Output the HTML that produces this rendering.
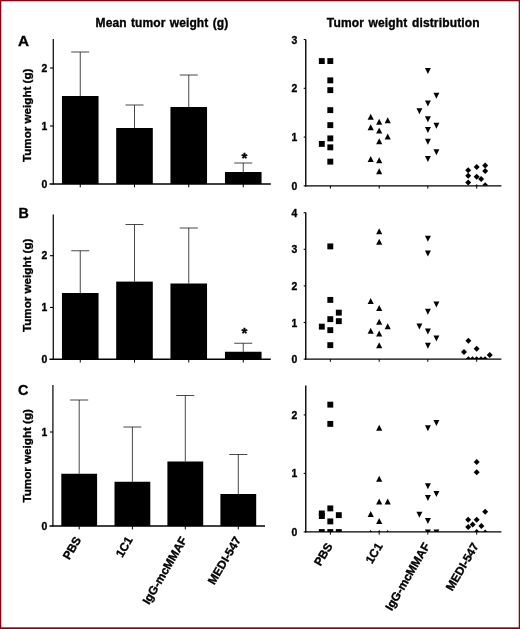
<!DOCTYPE html>
<html><head><meta charset="utf-8"><title>Tumor weight</title>
<style>
html,body{margin:0;padding:0;background:#fff;}
body{width:520px;height:629px;overflow:hidden;position:relative;}
.bd{position:absolute;background:#820818;}
svg{position:absolute;left:0;top:0;}
svg text{font-family:"Liberation Sans", Arial, Helvetica, sans-serif;font-weight:bold;fill:#000;stroke:#000;stroke-width:0.34px;}
</style></head><body>
<svg width="520" height="629" viewBox="0 0 520 629">
<text x="95.60" y="27.00" font-size="12.0" text-anchor="start"  textLength="132.6" lengthAdjust="spacing" word-spacing="1.0">Mean tumor weight (g)</text>
<text x="326.80" y="27.00" font-size="12.0" text-anchor="start"  textLength="152.8" lengthAdjust="spacing" word-spacing="1.0">Tumor weight distribution</text>
<text x="18.00" y="45.90" font-size="15.3" text-anchor="start" >A</text>
<text x="18.60" y="218.30" font-size="15.2" text-anchor="start" textLength="10.3" lengthAdjust="spacingAndGlyphs">B</text>
<text x="18.10" y="394.80" font-size="15.2" text-anchor="start" textLength="10.4" lengthAdjust="spacingAndGlyphs">C</text>
<line x1="53.30" y1="39.00" x2="53.30" y2="184.50" stroke="#1c1c1c" stroke-width="1.35"/>
<line x1="49.50" y1="184.00" x2="270.80" y2="184.00" stroke="#000" stroke-width="1.5"/>
<text x="47.40" y="187.50" font-size="10.4" text-anchor="end" >0</text>
<line x1="50.00" y1="126.00" x2="53.50" y2="126.00" stroke="#000" stroke-width="1.1"/>
<text x="47.40" y="129.50" font-size="10.4" text-anchor="end" >1</text>
<line x1="50.00" y1="68.00" x2="53.50" y2="68.00" stroke="#000" stroke-width="1.1"/>
<text x="47.40" y="71.50" font-size="10.4" text-anchor="end" >2</text>
<line x1="80.25" y1="52.00" x2="80.25" y2="96.00" stroke="#1a1a1a" stroke-width="0.8"/>
<line x1="71.25" y1="52.00" x2="89.25" y2="52.00" stroke="#1a1a1a" stroke-width="0.8"/>
<rect x="61.95" y="96.00" width="36.60" height="88.00" fill="#000"/>
<line x1="80.25" y1="184.00" x2="80.25" y2="187.30" stroke="#000" stroke-width="1.0"/>
<line x1="134.50" y1="105.00" x2="134.50" y2="128.00" stroke="#1a1a1a" stroke-width="0.8"/>
<line x1="125.50" y1="105.00" x2="143.50" y2="105.00" stroke="#1a1a1a" stroke-width="0.8"/>
<rect x="116.20" y="128.00" width="36.60" height="56.00" fill="#000"/>
<line x1="134.50" y1="184.00" x2="134.50" y2="187.30" stroke="#000" stroke-width="1.0"/>
<line x1="188.75" y1="75.00" x2="188.75" y2="107.00" stroke="#1a1a1a" stroke-width="0.8"/>
<line x1="179.75" y1="75.00" x2="197.75" y2="75.00" stroke="#1a1a1a" stroke-width="0.8"/>
<rect x="170.45" y="107.00" width="36.60" height="77.00" fill="#000"/>
<line x1="188.75" y1="184.00" x2="188.75" y2="187.30" stroke="#000" stroke-width="1.0"/>
<line x1="243.25" y1="163.00" x2="243.25" y2="172.00" stroke="#1a1a1a" stroke-width="0.8"/>
<line x1="234.25" y1="163.00" x2="252.25" y2="163.00" stroke="#1a1a1a" stroke-width="0.8"/>
<rect x="224.95" y="172.00" width="36.60" height="12.00" fill="#000"/>
<line x1="243.25" y1="184.00" x2="243.25" y2="187.30" stroke="#000" stroke-width="1.0"/>
<text x="244.40" y="162.50" font-size="15" text-anchor="middle" >*</text>
<text transform="translate(31.4,162.05) rotate(-90)" font-size="11.8" textLength="93.5" lengthAdjust="spacingAndGlyphs">Tumor weight (g)</text>
<line x1="53.30" y1="214.50" x2="53.30" y2="359.70" stroke="#1c1c1c" stroke-width="1.35"/>
<line x1="49.50" y1="359.20" x2="270.80" y2="359.20" stroke="#000" stroke-width="1.5"/>
<text x="47.40" y="362.70" font-size="10.4" text-anchor="end" >0</text>
<line x1="50.00" y1="307.45" x2="53.50" y2="307.45" stroke="#000" stroke-width="1.1"/>
<text x="47.40" y="310.95" font-size="10.4" text-anchor="end" >1</text>
<line x1="50.00" y1="255.70" x2="53.50" y2="255.70" stroke="#000" stroke-width="1.1"/>
<text x="47.40" y="259.20" font-size="10.4" text-anchor="end" >2</text>
<line x1="80.25" y1="250.75" x2="80.25" y2="293.00" stroke="#1a1a1a" stroke-width="0.8"/>
<line x1="71.25" y1="250.75" x2="89.25" y2="250.75" stroke="#1a1a1a" stroke-width="0.8"/>
<rect x="61.95" y="293.00" width="36.60" height="66.20" fill="#000"/>
<line x1="80.25" y1="359.20" x2="80.25" y2="362.50" stroke="#000" stroke-width="1.0"/>
<line x1="134.50" y1="224.50" x2="134.50" y2="281.60" stroke="#1a1a1a" stroke-width="0.8"/>
<line x1="125.50" y1="224.50" x2="143.50" y2="224.50" stroke="#1a1a1a" stroke-width="0.8"/>
<rect x="116.20" y="281.60" width="36.60" height="77.60" fill="#000"/>
<line x1="134.50" y1="359.20" x2="134.50" y2="362.50" stroke="#000" stroke-width="1.0"/>
<line x1="188.75" y1="228.00" x2="188.75" y2="283.50" stroke="#1a1a1a" stroke-width="0.8"/>
<line x1="179.75" y1="228.00" x2="197.75" y2="228.00" stroke="#1a1a1a" stroke-width="0.8"/>
<rect x="170.45" y="283.50" width="36.60" height="75.70" fill="#000"/>
<line x1="188.75" y1="359.20" x2="188.75" y2="362.50" stroke="#000" stroke-width="1.0"/>
<line x1="243.25" y1="343.25" x2="243.25" y2="351.75" stroke="#1a1a1a" stroke-width="0.8"/>
<line x1="234.25" y1="343.25" x2="252.25" y2="343.25" stroke="#1a1a1a" stroke-width="0.8"/>
<rect x="224.95" y="351.75" width="36.60" height="7.45" fill="#000"/>
<line x1="243.25" y1="359.20" x2="243.25" y2="362.50" stroke="#000" stroke-width="1.0"/>
<text x="244.50" y="337.80" font-size="15" text-anchor="middle" >*</text>
<text transform="translate(31.4,332.05) rotate(-90)" font-size="11.8" textLength="93.5" lengthAdjust="spacingAndGlyphs">Tumor weight (g)</text>
<line x1="52.90" y1="385.00" x2="52.90" y2="526.60" stroke="#1c1c1c" stroke-width="1.35"/>
<line x1="49.50" y1="526.10" x2="265.00" y2="526.10" stroke="#000" stroke-width="1.5"/>
<text x="47.40" y="529.60" font-size="10.4" text-anchor="end" >0</text>
<line x1="50.00" y1="432.00" x2="53.10" y2="432.00" stroke="#000" stroke-width="1.1"/>
<text x="47.40" y="435.50" font-size="10.4" text-anchor="end" >1</text>
<line x1="79.20" y1="400.00" x2="79.20" y2="473.75" stroke="#1a1a1a" stroke-width="0.8"/>
<line x1="70.20" y1="400.00" x2="88.20" y2="400.00" stroke="#1a1a1a" stroke-width="0.8"/>
<rect x="61.30" y="473.75" width="35.80" height="52.35" fill="#000"/>
<line x1="79.20" y1="526.10" x2="79.20" y2="529.40" stroke="#000" stroke-width="1.0"/>
<line x1="132.40" y1="427.00" x2="132.40" y2="481.75" stroke="#1a1a1a" stroke-width="0.8"/>
<line x1="123.40" y1="427.00" x2="141.40" y2="427.00" stroke="#1a1a1a" stroke-width="0.8"/>
<rect x="114.50" y="481.75" width="35.80" height="44.35" fill="#000"/>
<line x1="132.40" y1="526.10" x2="132.40" y2="529.40" stroke="#000" stroke-width="1.0"/>
<line x1="185.30" y1="395.50" x2="185.30" y2="461.50" stroke="#1a1a1a" stroke-width="0.8"/>
<line x1="176.30" y1="395.50" x2="194.30" y2="395.50" stroke="#1a1a1a" stroke-width="0.8"/>
<rect x="167.40" y="461.50" width="35.80" height="64.60" fill="#000"/>
<line x1="185.30" y1="526.10" x2="185.30" y2="529.40" stroke="#000" stroke-width="1.0"/>
<line x1="238.30" y1="454.50" x2="238.30" y2="494.00" stroke="#1a1a1a" stroke-width="0.8"/>
<line x1="229.30" y1="454.50" x2="247.30" y2="454.50" stroke="#1a1a1a" stroke-width="0.8"/>
<rect x="220.40" y="494.00" width="35.80" height="32.10" fill="#000"/>
<line x1="238.30" y1="526.10" x2="238.30" y2="529.40" stroke="#000" stroke-width="1.0"/>
<text transform="translate(31.4,502.55) rotate(-90)" font-size="11.8" textLength="93.5" lengthAdjust="spacingAndGlyphs">Tumor weight (g)</text>
<clipPath id="cpA"><rect x="300" y="29.50" width="215" height="156.35"/></clipPath>
<g clip-path="url(#cpA)">
<rect x="318.85" y="58.10" width="5.90" height="5.90" fill="#000"/>
<rect x="327.35" y="58.10" width="5.90" height="5.90" fill="#000"/>
<rect x="327.35" y="77.40" width="5.90" height="5.90" fill="#000"/>
<rect x="327.35" y="87.20" width="5.90" height="5.90" fill="#000"/>
<rect x="327.35" y="107.20" width="5.90" height="5.90" fill="#000"/>
<rect x="327.35" y="122.20" width="5.90" height="5.90" fill="#000"/>
<rect x="327.35" y="135.45" width="5.90" height="5.90" fill="#000"/>
<rect x="318.85" y="140.95" width="5.90" height="5.90" fill="#000"/>
<rect x="327.35" y="144.40" width="5.90" height="5.90" fill="#000"/>
<rect x="327.35" y="158.70" width="5.90" height="5.90" fill="#000"/>
<polygon points="367.65,119.80 373.75,119.80 370.70,113.80"/>
<polygon points="384.65,123.30 390.75,123.30 387.70,117.30"/>
<polygon points="376.15,124.80 382.25,124.80 379.20,118.80"/>
<polygon points="367.65,130.30 373.75,130.30 370.70,124.30"/>
<polygon points="376.15,133.55 382.25,133.55 379.20,127.55"/>
<polygon points="384.65,139.55 390.75,139.55 387.70,133.55"/>
<polygon points="376.15,144.30 382.25,144.30 379.20,138.30"/>
<polygon points="367.65,162.05 373.75,162.05 370.70,156.05"/>
<polygon points="376.15,163.30 382.25,163.30 379.20,157.30"/>
<polygon points="376.15,174.30 382.25,174.30 379.20,168.30"/>
<polygon points="424.95,68.00 430.85,68.00 427.90,74.10"/>
<polygon points="433.45,92.75 439.35,92.75 436.40,98.85"/>
<polygon points="424.95,100.50 430.85,100.50 427.90,106.60"/>
<polygon points="416.45,108.25 422.35,108.25 419.40,114.35"/>
<polygon points="424.95,116.25 430.85,116.25 427.90,122.35"/>
<polygon points="433.45,122.75 439.35,122.75 436.40,128.85"/>
<polygon points="424.95,127.00 430.85,127.00 427.90,133.10"/>
<polygon points="424.95,138.75 430.85,138.75 427.90,144.85"/>
<polygon points="433.45,149.25 439.35,149.25 436.40,155.35"/>
<polygon points="424.95,156.00 430.85,156.00 427.90,162.10"/>
<polygon points="465.20,170.20 468.20,167.20 471.20,170.20 468.20,173.20"/>
<polygon points="465.20,175.70 468.20,172.70 471.20,175.70 468.20,178.70"/>
<polygon points="465.20,182.40 468.20,179.40 471.20,182.40 468.20,185.40"/>
<polygon points="473.70,167.00 476.70,164.00 479.70,167.00 476.70,170.00"/>
<polygon points="473.70,176.70 476.70,173.70 479.70,176.70 476.70,179.70"/>
<polygon points="478.10,178.90 481.10,175.90 484.10,178.90 481.10,181.90"/>
<polygon points="482.20,165.50 485.20,162.50 488.20,165.50 485.20,168.50"/>
<polygon points="482.20,170.90 485.20,167.90 488.20,170.90 485.20,173.90"/>
<polygon points="473.70,187.20 476.70,184.20 479.70,187.20 476.70,190.20"/>
<polygon points="482.20,185.20 485.20,182.20 488.20,185.20 485.20,188.20"/>
</g>
<line x1="305.75" y1="39.50" x2="305.75" y2="186.45" stroke="#151515" stroke-width="1.5"/>
<line x1="305.05" y1="185.85" x2="501.40" y2="185.85" stroke="#000" stroke-width="1.3"/>
<line x1="303.70" y1="185.85" x2="305.75" y2="185.85" stroke="#000" stroke-width="1.1"/>
<text x="297.20" y="189.85" font-size="10.4" text-anchor="end" >0</text>
<line x1="303.70" y1="137.07" x2="305.75" y2="137.07" stroke="#000" stroke-width="1.1"/>
<text x="297.20" y="141.07" font-size="10.4" text-anchor="end" >1</text>
<line x1="303.70" y1="88.29" x2="305.75" y2="88.29" stroke="#000" stroke-width="1.1"/>
<text x="297.20" y="92.29" font-size="10.4" text-anchor="end" >2</text>
<line x1="303.70" y1="39.51" x2="305.75" y2="39.51" stroke="#000" stroke-width="1.1"/>
<text x="297.20" y="43.51" font-size="10.4" text-anchor="end" >3</text>
<line x1="330.40" y1="185.85" x2="330.40" y2="188.55" stroke="#000" stroke-width="1.0"/>
<line x1="379.20" y1="185.85" x2="379.20" y2="188.55" stroke="#000" stroke-width="1.0"/>
<line x1="427.80" y1="185.85" x2="427.80" y2="188.55" stroke="#000" stroke-width="1.0"/>
<line x1="476.70" y1="185.85" x2="476.70" y2="188.55" stroke="#000" stroke-width="1.0"/>
<clipPath id="cpB"><rect x="300" y="202.50" width="215" height="156.60"/></clipPath>
<g clip-path="url(#cpB)">
<rect x="327.35" y="243.45" width="5.90" height="5.90" fill="#000"/>
<rect x="327.35" y="296.95" width="5.90" height="5.90" fill="#000"/>
<rect x="335.85" y="309.70" width="5.90" height="5.90" fill="#000"/>
<rect x="327.35" y="316.20" width="5.90" height="5.90" fill="#000"/>
<rect x="335.85" y="318.20" width="5.90" height="5.90" fill="#000"/>
<rect x="318.85" y="323.70" width="5.90" height="5.90" fill="#000"/>
<rect x="327.35" y="327.20" width="5.90" height="5.90" fill="#000"/>
<rect x="327.35" y="342.20" width="5.90" height="5.90" fill="#000"/>
<polygon points="376.15,234.30 382.25,234.30 379.20,228.30"/>
<polygon points="376.15,244.80 382.25,244.80 379.20,238.80"/>
<polygon points="367.65,304.05 373.75,304.05 370.70,298.05"/>
<polygon points="376.15,311.05 382.25,311.05 379.20,305.05"/>
<polygon points="376.15,324.80 382.25,324.80 379.20,318.80"/>
<polygon points="384.65,329.30 390.75,329.30 387.70,323.30"/>
<polygon points="367.65,333.80 373.75,333.80 370.70,327.80"/>
<polygon points="376.15,336.55 382.25,336.55 379.20,330.55"/>
<polygon points="376.15,348.30 382.25,348.30 379.20,342.30"/>
<polygon points="424.95,235.75 430.85,235.75 427.90,241.85"/>
<polygon points="424.95,250.50 430.85,250.50 427.90,256.60"/>
<polygon points="433.45,301.40 439.35,301.40 436.40,307.50"/>
<polygon points="424.95,308.75 430.85,308.75 427.90,314.85"/>
<polygon points="416.45,323.50 422.35,323.50 419.40,329.60"/>
<polygon points="424.95,328.50 430.85,328.50 427.90,334.60"/>
<polygon points="433.45,335.50 439.35,335.50 436.40,341.60"/>
<polygon points="424.95,342.75 430.85,342.75 427.90,348.85"/>
<polygon points="465.40,340.80 468.40,337.80 471.40,340.80 468.40,343.80"/>
<polygon points="473.60,348.70 476.60,345.70 479.60,348.70 476.60,351.70"/>
<polygon points="461.00,352.10 464.00,349.10 467.00,352.10 464.00,355.10"/>
<polygon points="486.75,354.95 489.75,351.95 492.75,354.95 489.75,357.95"/>
<polygon points="465.40,359.20 468.40,356.20 471.40,359.20 468.40,362.20"/>
<polygon points="469.50,359.20 472.50,356.20 475.50,359.20 472.50,362.20"/>
<polygon points="473.60,359.20 476.60,356.20 479.60,359.20 476.60,362.20"/>
<polygon points="478.00,359.20 481.00,356.20 484.00,359.20 481.00,362.20"/>
<polygon points="482.00,359.20 485.00,356.20 488.00,359.20 485.00,362.20"/>
</g>
<line x1="305.75" y1="212.50" x2="305.75" y2="359.70" stroke="#151515" stroke-width="1.5"/>
<line x1="305.05" y1="359.10" x2="501.40" y2="359.10" stroke="#000" stroke-width="1.3"/>
<line x1="303.70" y1="359.10" x2="305.75" y2="359.10" stroke="#000" stroke-width="1.1"/>
<text x="297.20" y="363.10" font-size="10.4" text-anchor="end" >0</text>
<line x1="303.70" y1="322.50" x2="305.75" y2="322.50" stroke="#000" stroke-width="1.1"/>
<text x="297.20" y="326.50" font-size="10.4" text-anchor="end" >1</text>
<line x1="303.70" y1="285.90" x2="305.75" y2="285.90" stroke="#000" stroke-width="1.1"/>
<text x="297.20" y="289.90" font-size="10.4" text-anchor="end" >2</text>
<line x1="303.70" y1="249.30" x2="305.75" y2="249.30" stroke="#000" stroke-width="1.1"/>
<text x="297.20" y="253.30" font-size="10.4" text-anchor="end" >3</text>
<line x1="303.70" y1="212.70" x2="305.75" y2="212.70" stroke="#000" stroke-width="1.1"/>
<text x="297.20" y="216.70" font-size="10.4" text-anchor="end" >4</text>
<line x1="330.40" y1="359.10" x2="330.40" y2="361.80" stroke="#000" stroke-width="1.0"/>
<line x1="379.20" y1="359.10" x2="379.20" y2="361.80" stroke="#000" stroke-width="1.0"/>
<line x1="427.80" y1="359.10" x2="427.80" y2="361.80" stroke="#000" stroke-width="1.0"/>
<line x1="476.70" y1="359.10" x2="476.70" y2="361.80" stroke="#000" stroke-width="1.0"/>
<clipPath id="cpC"><rect x="300" y="375.50" width="215" height="156.40"/></clipPath>
<g clip-path="url(#cpC)">
<rect x="327.35" y="401.70" width="5.90" height="5.90" fill="#000"/>
<rect x="327.35" y="420.95" width="5.90" height="5.90" fill="#000"/>
<rect x="327.35" y="505.45" width="5.90" height="5.90" fill="#000"/>
<rect x="318.85" y="510.50" width="5.90" height="5.90" fill="#000"/>
<rect x="318.85" y="513.10" width="5.90" height="5.90" fill="#000"/>
<rect x="335.85" y="512.20" width="5.90" height="5.90" fill="#000"/>
<rect x="327.35" y="518.45" width="5.90" height="5.90" fill="#000"/>
<rect x="318.85" y="529.10" width="5.90" height="5.90" fill="#000"/>
<rect x="327.35" y="529.10" width="5.90" height="5.90" fill="#000"/>
<rect x="335.85" y="529.10" width="5.90" height="5.90" fill="#000"/>
<polygon points="376.15,430.80 382.25,430.80 379.20,424.80"/>
<polygon points="376.15,481.80 382.25,481.80 379.20,475.80"/>
<polygon points="376.15,504.55 382.25,504.55 379.20,498.55"/>
<polygon points="384.65,504.55 390.75,504.55 387.70,498.55"/>
<polygon points="367.65,517.05 373.75,517.05 370.70,511.05"/>
<polygon points="376.15,524.05 382.25,524.05 379.20,518.05"/>
<polygon points="367.65,535.70 373.75,535.70 370.70,529.70"/>
<polygon points="376.15,535.70 382.25,535.70 379.20,529.70"/>
<polygon points="384.65,535.70 390.75,535.70 387.70,529.70"/>
<polygon points="433.45,420.00 439.35,420.00 436.40,426.10"/>
<polygon points="424.95,425.25 430.85,425.25 427.90,431.35"/>
<polygon points="424.95,483.25 430.85,483.25 427.90,489.35"/>
<polygon points="433.45,491.00 439.35,491.00 436.40,497.10"/>
<polygon points="424.95,495.00 430.85,495.00 427.90,501.10"/>
<polygon points="416.45,511.75 422.35,511.75 419.40,517.85"/>
<polygon points="424.95,517.90 430.85,517.90 427.90,524.00"/>
<polygon points="424.95,529.40 430.85,529.40 427.90,535.50"/>
<polygon points="433.45,529.40 439.35,529.40 436.40,535.50"/>
<polygon points="473.70,461.95 476.70,458.95 479.70,461.95 476.70,464.95"/>
<polygon points="473.70,472.20 476.70,469.20 479.70,472.20 476.70,475.20"/>
<polygon points="482.20,511.70 485.20,508.70 488.20,511.70 485.20,514.70"/>
<polygon points="465.20,519.80 468.20,516.80 471.20,519.80 468.20,522.80"/>
<polygon points="473.70,519.80 476.70,516.80 479.70,519.80 476.70,522.80"/>
<polygon points="469.70,524.40 472.70,521.40 475.70,524.40 472.70,527.40"/>
<polygon points="478.40,525.90 481.40,522.90 484.40,525.90 481.40,528.90"/>
<polygon points="465.20,527.00 468.20,524.00 471.20,527.00 468.20,530.00"/>
<polygon points="473.70,532.10 476.70,529.10 479.70,532.10 476.70,535.10"/>
<polygon points="482.20,532.60 485.20,529.60 488.20,532.60 485.20,535.60"/>
</g>
<line x1="305.75" y1="385.50" x2="305.75" y2="532.50" stroke="#151515" stroke-width="1.5"/>
<line x1="305.05" y1="531.90" x2="501.40" y2="531.90" stroke="#000" stroke-width="1.3"/>
<line x1="303.70" y1="531.90" x2="305.75" y2="531.90" stroke="#000" stroke-width="1.1"/>
<text x="297.20" y="535.90" font-size="10.4" text-anchor="end" >0</text>
<line x1="303.70" y1="473.40" x2="305.75" y2="473.40" stroke="#000" stroke-width="1.1"/>
<text x="297.20" y="477.40" font-size="10.4" text-anchor="end" >1</text>
<line x1="303.70" y1="414.90" x2="305.75" y2="414.90" stroke="#000" stroke-width="1.1"/>
<text x="297.20" y="418.90" font-size="10.4" text-anchor="end" >2</text>
<line x1="330.40" y1="531.90" x2="330.40" y2="534.60" stroke="#000" stroke-width="1.0"/>
<line x1="379.20" y1="531.90" x2="379.20" y2="534.60" stroke="#000" stroke-width="1.0"/>
<line x1="427.80" y1="531.90" x2="427.80" y2="534.60" stroke="#000" stroke-width="1.0"/>
<line x1="476.70" y1="531.90" x2="476.70" y2="534.60" stroke="#000" stroke-width="1.0"/>
<text transform="translate(81.60,539.70) rotate(-59.5)" font-size="11.8" text-anchor="end">PBS</text>
<text transform="translate(133.20,539.70) rotate(-59.5)" font-size="11.8" text-anchor="end">1C1</text>
<text transform="translate(187.50,539.70) rotate(-59.5)" font-size="11.8" text-anchor="end">IgG-mcMMAF</text>
<text transform="translate(241.30,539.70) rotate(-59.5)" font-size="11.8" text-anchor="end">MEDI-547</text>
<text transform="translate(332.90,545.90) rotate(-59.5)" font-size="11.8" text-anchor="end">PBS</text>
<text transform="translate(383.00,545.90) rotate(-59.5)" font-size="11.8" text-anchor="end">1C1</text>
<text transform="translate(430.30,545.90) rotate(-59.5)" font-size="11.8" text-anchor="end">IgG-mcMMAF</text>
<text transform="translate(479.20,545.90) rotate(-59.5)" font-size="11.8" text-anchor="end">MEDI-547</text>
</svg>
<div class="bd" style="left:0;top:0;width:520px;height:1px"></div>
<div class="bd" style="left:0;top:1px;width:520px;height:1px;opacity:.3"></div>
<div class="bd" style="left:0;top:0;width:1px;height:629px"></div>
<div class="bd" style="left:1px;top:0;width:1px;height:629px;opacity:.3"></div>
<div class="bd" style="left:519px;top:0;width:1px;height:629px"></div>
<div class="bd" style="left:518px;top:0;width:1px;height:629px;opacity:.3"></div>
<div class="bd" style="left:0;top:628px;width:520px;height:1px"></div>
<div class="bd" style="left:0;top:627px;width:520px;height:1px;opacity:.7"></div>
</body></html>
